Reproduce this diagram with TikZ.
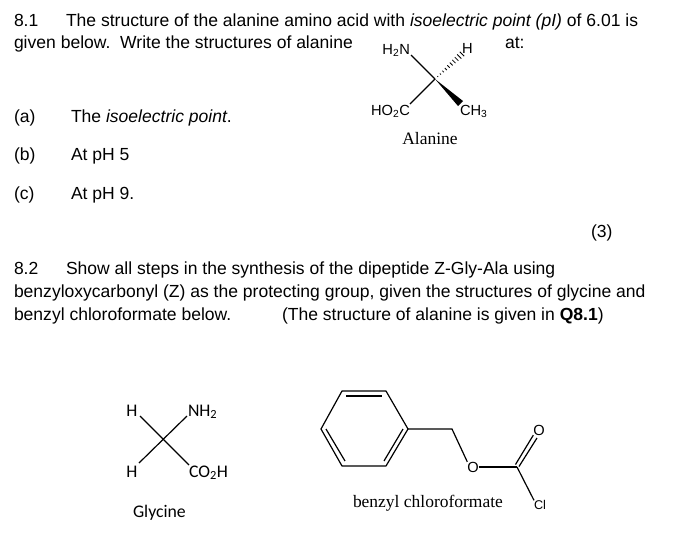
\documentclass[tikz,border=0pt]{standalone}
\usepackage{fontspec}
\setmainfont{Liberation Sans}
\newfontfamily\serifx{Liberation Serif}
\newfontfamily\calib{Carlito}
\usetikzlibrary{calc}
\tikzset{
  txt/.style={anchor=base west,inner sep=0pt,outer sep=0pt,font=\fontsize{13.15pt}{15pt}\selectfont},
  chem/.style={inner sep=0pt,outer sep=0pt,font=\fontsize{11pt}{13pt}\selectfont},
  cal/.style={inner sep=0pt,outer sep=0pt,font=\calib\fontsize{13.3pt}{15pt}\selectfont},
  ser/.style={inner sep=0pt,outer sep=0pt,font=\serifx\fontsize{13.1pt}{15pt}\selectfont},
  bond/.style={draw=black,line width=0.9pt}
}
\begin{document}
\begin{tikzpicture}[x=0.75pt,y=-0.75pt]
\useasboundingbox (0,0) rectangle (690,533);
\fill[white] (0,0) rectangle (690,533);
% question text
\node[txt] (q1n) at (14,26) {8.1};
\node[txt] (q1a) at (66,26) {The structure of the alanine amino acid with \textit{isoelectric point (pI)} of 6.01 is};
\node[txt] (q1b) at (14,48) {given below.\ \ Write the structures of alanine};
\node[txt] (q1c) at (505,48) {at:};
\node[txt] (a1) at (14,122) {(a)};
\node[txt] (a2) at (71,122) {The \textit{isoelectric point}.};
\node[txt] (b1) at (14,160) {(b)};
\node[txt] (b2) at (71,160) {At pH 5};
\node[txt] (c1) at (14,199) {(c)};
\node[txt] (c2) at (71,199) {At pH 9.};
\node[txt] (m3) at (591,237) {(3)};
\node[txt] (q2n) at (14,274) {8.2};
\node[txt] (q2a) at (66,274) {Show all steps in the synthesis of the dipeptide Z-Gly-Ala using};
\node[txt] (q2b) at (14,297) {benzyloxycarbonyl (Z) as the protecting group, given the structures of glycine and};
\node[txt] (q2c) at (14,320) {benzyl chloroformate below.};
\node[txt] (q2d) at (282,320) {(The structure of alanine is given in \textbf{Q8.1})};
% alanine
\coordinate (ac) at (435,79);
\coordinate (a-nh) at (411,55);
\coordinate (a-co) at (410,104);
\coordinate (a-me) at (461,104);
\coordinate (a-h) at (462,54);
\node[chem,anchor=base east] (nh2) at (410,54) {H\textsubscript{2}N};
\node[chem,anchor=base west] (hr) at (462,53) {H};
\node[chem,anchor=base east] (co2h) at (410,115) {HO\textsubscript{2}C};
\node[chem,anchor=base west] (ch3) at (460,115) {CH\textsubscript{3}};
\node[ser,anchor=base] (alanine) at (430,144) {Alanine};
\draw[bond] (ac) -- (a-nh);
\draw[bond] (ac) -- (a-co);
\fill (ac) -- (458,106) -- (463,101) -- cycle;
\foreach \t/\w in {0.1/0.5,0.2/0.8,0.3/1.1,0.4/1.4,0.5/1.7,0.6/2.0,0.7/2.3,0.8/2.6,0.9/2.9,1.0/3.2}{
  \draw[line width=0.6pt] ($(ac)!\t!(a-h)+(-\w*0.7,-\w*0.7)$) -- ($(ac)!\t!(a-h)+(\w*0.7,\w*0.7)$);
}
% glycine
\coordinate (gc) at (163,439);
\coordinate (g1) at (140,416);
\coordinate (g2) at (187,416);
\coordinate (g3) at (139,463);
\coordinate (g4) at (189,465);
\node[cal,anchor=base] (gh1) at (132,416) {H};
\node[cal,anchor=base west] (gnh) at (188,416) {NH\textsubscript{2}};
\node[cal,anchor=base] (gh2) at (132,477) {H};
\node[cal,anchor=base west] (gco) at (189,477) {CO\textsubscript{2}H};
\node[cal,anchor=base west] (gly) at (133,517) {Glycine};
\draw[bond] (g1) -- (g4);
\draw[bond] (g2) -- (g3);
% benzyl chloroformate
\coordinate (r1) at (342,391);
\coordinate (r2) at (386,391);
\coordinate (r3) at (408,429);
\coordinate (r4) at (386,466);
\coordinate (r5) at (342,466);
\coordinate (r6) at (321,429);
\coordinate (ch2) at (452,429);
\coordinate (cc) at (517,467);
\node[chem] (ox) at (473,467) {O};
\node[chem] (od) at (539,430) {O};
\node[chem,font=\fontsize{9.5pt}{11pt}\selectfont] (cl) at (540,505) {Cl};
\node[ser,anchor=base west] (bc) at (353,507) {benzyl chloroformate};
\draw[bond,line join=round] (r1) -- (r2) -- (r3) -- (r4) -- (r5) -- (r6) -- cycle;
\draw[bond] (346,396) -- (382,396);
\draw[bond] (403,429) -- (384,461);
\draw[bond] (326,429) -- (345,461);
\draw[bond] (r3) -- (ch2) -- (ox.north west);
\draw[bond] (ox.east) -- (cc);
\draw[bond] (cc) -- (cl.north west);
\draw[bond] (515.5,464.5) -- (od.south west);
\draw[bond] (519,466.5) -- (537,438);
\end{tikzpicture}
\end{document}
